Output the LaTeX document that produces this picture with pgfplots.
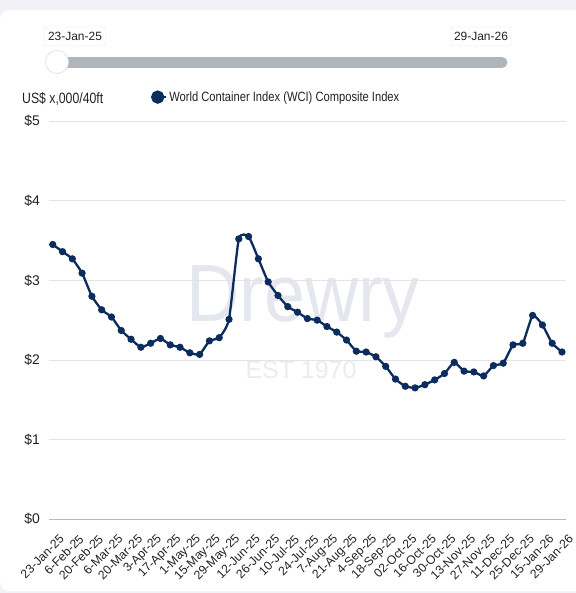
\documentclass[border=0pt]{standalone}
\usepackage{graphicx}
\usepackage{pgfplots}
\pgfplotsset{compat=1.18}
\usepackage{fontspec}
\setmainfont{Liberation Sans}
\definecolor{navy}{HTML}{0B2C5C}
\definecolor{bggray}{HTML}{F1F2F6}
\definecolor{track}{HTML}{B0B5BC}
\definecolor{gridc}{HTML}{E4E4E4}
\definecolor{wm}{HTML}{E4E7EE}
\definecolor{txt}{HTML}{222222}
\begin{document}
\begin{tikzpicture}
\useasboundingbox (0bp,0bp) rectangle (576bp,-593bp);
\fill[bggray] (0bp,0bp) rectangle (576bp,-593bp);
\fill[white, rounded corners=9bp] (0bp,-10bp) rectangle (590bp,-591bp);
% watermark
\node[font=\fontsize{74}{74}\selectfont, text=wm, anchor=base, yscale=1.1] at (303bp,-321bp) {Drewry};
\node[font=\fontsize{25}{25}\selectfont, text=wm!80, anchor=base] at (301bp,-378bp) {EST 1970};
% slider
\draw[track, line width=11bp, line cap=round] (57bp,-62.5bp) -- (502bp,-62.5bp);
\filldraw[fill=white, draw=gray!22, line width=0.8bp] (57bp,-62bp) circle (11.5bp);
\node[draw=gray!22, rounded corners=1.5bp, minimum width=62bp, minimum height=19bp, inner sep=0pt, font=\fontsize{12}{14}\selectfont, text=txt] at (75bp,-36.5bp) {23-Jan-25};
\node[draw=gray!22, rounded corners=1.5bp, minimum width=60bp, minimum height=19bp, inner sep=0pt, font=\fontsize{12}{14}\selectfont, text=txt] at (481bp,-36.5bp) {29-Jan-26};
% y title
\node[anchor=base west, inner sep=0pt, font=\fontsize{15}{17}\selectfont, text=txt, xscale=0.82] at (22bp,-103bp) {US\$ x,000/40ft};
\begin{axis}[
  at={(49bp,-519.3bp)}, anchor=south west,
  scale only axis, width=517bp, height=398.3bp,
  xmin=-0.38, xmax=52.41, ymin=0, ymax=5,
  axis x line*=bottom, axis y line*=left,
  x axis line style={draw=gray!55, line width=1bp},
  y axis line style={draw=none},
  major tick length=0pt,
  ymajorgrids, grid style={draw=gridc, line width=0.9bp},
  ytick={0,1,2,3,4,5},
  yticklabels={\$0,\$1,\$2,\$3,\$4,\$5},
  yticklabel style={font=\fontsize{14}{16}\selectfont, text=txt, inner sep=0pt, xshift=-9bp, anchor=east},
  xtick={0,2,...,52},
  xticklabels={23-Jan-25,6-Feb-25,20-Feb-25,6-Mar-25,20-Mar-25,3-Apr-25,17-Apr-25,1-May-25,15-May-25,29-May-25,12-Jun-25,26-Jun-25,10-Jul-25,24-Jul-25,7-Aug-25,21-Aug-25,4-Sep-25,18-Sep-25,02-Oct-25,16-Oct-25,30-Oct-25,13-Nov-25,27-Nov-25,11-Dec-25,25-Dec-25,15-Jan-26,29-Jan-26},
  xticklabel style={font=\fontsize{12.3}{14}\selectfont, text=txt, rotate=45, anchor=east, inner sep=0pt, xshift=-6bp, yshift=-19bp},
  clip=false,
  legend style={at={(axis description cs:0.197,1.06)}, anchor=west, draw=none, fill=none, inner sep=0pt, font=\fontsize{13.5}{15}\selectfont, text=txt},
  legend image code/.code={\fill[navy] (0bp,0bp) circle (5.5bp); \path (-5.5bp,0bp) -- (8.5bp,0bp);},
]
\addplot[navy, line width=2.3bp, smooth, tension=0.3, mark=*, mark size=2.4bp, mark options={fill=navy, draw=navy}] table {
x y
0 3.45
1 3.36
2 3.27
3 3.09
4 2.80
5 2.63
6 2.54
7 2.37
8 2.26
9 2.16
10 2.21
11 2.27
12 2.19
13 2.16
14 2.09
15 2.07
16 2.24
17 2.28
18 2.51
19 3.52
20 3.55
21 3.27
22 2.98
23 2.81
24 2.67
25 2.60
26 2.52
27 2.50
28 2.42
29 2.35
30 2.25
31 2.11
32 2.10
33 2.04
34 1.92
35 1.76
36 1.67
37 1.65
38 1.69
39 1.75
40 1.83
41 1.97
42 1.86
43 1.85
44 1.80
45 1.93
46 1.96
47 2.19
48 2.21
49 2.56
50 2.44
51 2.21
52 2.10
};
\addlegendentry{\scalebox{0.83}[1]{World Container Index (WCI) Composite Index}}
\end{axis}
\end{tikzpicture}
\end{document}
